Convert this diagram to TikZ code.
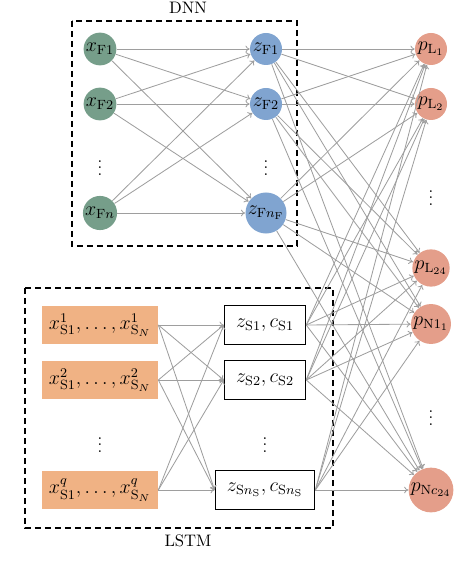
\documentclass[tikz,border=0pt]{standalone}
\usepackage{amsmath}
\usetikzlibrary{arrows.meta}
\definecolor{dnnGreen}{RGB}{118,158,138}
\definecolor{dnnBlue}{RGB}{128,164,208}
\definecolor{outRed}{RGB}{228,158,138}
\definecolor{seqOrange}{RGB}{240,178,132}
\definecolor{arrowGray}{RGB}{158,158,158}

\begin{document}
\begin{tikzpicture}
[x=0.6pt,y=-0.6pt,
 inDecorate/.style={shape=circle,fill=dnnGreen,inner sep=0.5pt,minimum size=19.2pt,font=\fontsize{12}{14}\selectfont},%
 hidDecorate/.style={shape=circle,fill=dnnBlue,inner sep=0.5pt,minimum size=19.2pt,font=\fontsize{12}{14}\selectfont},%
 outDecorate/.style={shape=circle,fill=outRed,inner sep=0.5pt,minimum size=19.2pt,font=\fontsize{12}{14}\selectfont},%
 seqDecorate/.style={shape=rectangle,fill=seqOrange,inner sep=1pt,minimum width=69.6pt,minimum height=22.8pt,font=\fontsize{11.5}{14}\selectfont},%
 cellDecorate/.style={shape=rectangle,draw,thick,inner xsep=7pt,minimum width=48.6pt,minimum height=23.4pt,font=\fontsize{12}{14}\selectfont},%
 groupDecorate/.style={draw,thick,dash pattern=on 3.6pt off 2.4pt},%
 lineDecorate/.style={-{To[length=2.5pt,width=4pt]},draw=arrowGray,line width=0.5pt}]
\useasboundingbox (0,0) rectangle (474,566);
%% group frames
\draw[groupDecorate] (72,21) rectangle (297,246);
\draw[groupDecorate] (25,288) rectangle (333,528);
\node (dnnLabel) at (188,8) {DNN};
\node (lstmLabel) at (188,541) {LSTM};
%% DNN nodes
\foreach \nodename/\x/\y/\txt in {xF1/100/49/{x_{\mathrm{F}1}}, xF2/100/104/{x_{\mathrm{F}2}}, xFn/100/213/{x_{\mathrm{F}n}}} {
  \node (\nodename) at (\x,\y) [inDecorate] {$\txt$};
}
\foreach \nodename/\x/\y/\txt in {zF1/266/49/{z_{\mathrm{F}1}}, zF2/266/104/{z_{\mathrm{F}2}}, zFn/266/213/{z_{\mathrm{F}n_\mathrm{F}}}} {
  \node (\nodename) at (\x,\y) [hidDecorate] {$\txt$};
}
%% output nodes
\foreach \nodename/\x/\y/\txt in {pL1/431/49/{p_{\mathrm{L}_1}}, pL2/431/104/{p_{\mathrm{L}_2}}, pL24/431/268/{p_{\mathrm{L}_{24}}}, pN1/431/324/{p_{\mathrm{N}1_1}}, pNc/431/490/{p_{\mathrm{N}c_{24}}}} {
  \node (\nodename) at (\x,\y) [outDecorate] {$\txt$};
}
%% LSTM nodes
\foreach \nodename/\y/\k in {sq1/325/1, sq2/380/2, sqq/490/q} {
  \node (\nodename) at (100,\y) [seqDecorate] {$x^{\k}_{\mathrm{S}1},\dots,x^{\k}_{\mathrm{S}_N}$};
}
\foreach \nodename/\y/\k in {cell1/325/1, cell2/380/2, celln/490/{n_\mathrm{S}}} {
  \node (\nodename) at (265,\y) [cellDecorate] {$z_{\mathrm{S}\k},c_{\mathrm{S}\k}$};
}
%% dots
\foreach \nodename/\x/\y in {dA/100/163, dB/266/163, dC/431/193, dD/431/413, dE/100/440, dF/265/440} {
  \node (\nodename) at (\x,\y) {$\vdots$};
}
%% edges or lines
\foreach \startnode in {xF1, xF2, xFn} {
  \foreach \endnode in {zF1, zF2, zFn} {
    \draw[lineDecorate] (\startnode) -- (\endnode);
  }
}
\foreach \startnode in {sq1, sq2, sqq} {
  \foreach \endnode in {cell1, cell2, celln} {
    \draw[lineDecorate] (\startnode.east) -- (\endnode.west);
  }
}
\foreach \endnode in {pL1, pL2, pL24, pN1, pNc} {
  \foreach \startnode in {zF1, zF2, zFn} {
    \draw[lineDecorate] (\startnode) -- (\endnode);
  }
  \foreach \startnode in {cell1, cell2, celln} {
    \draw[lineDecorate] (\startnode.east) -- (\endnode);
  }
}
\end{tikzpicture}
\end{document}
